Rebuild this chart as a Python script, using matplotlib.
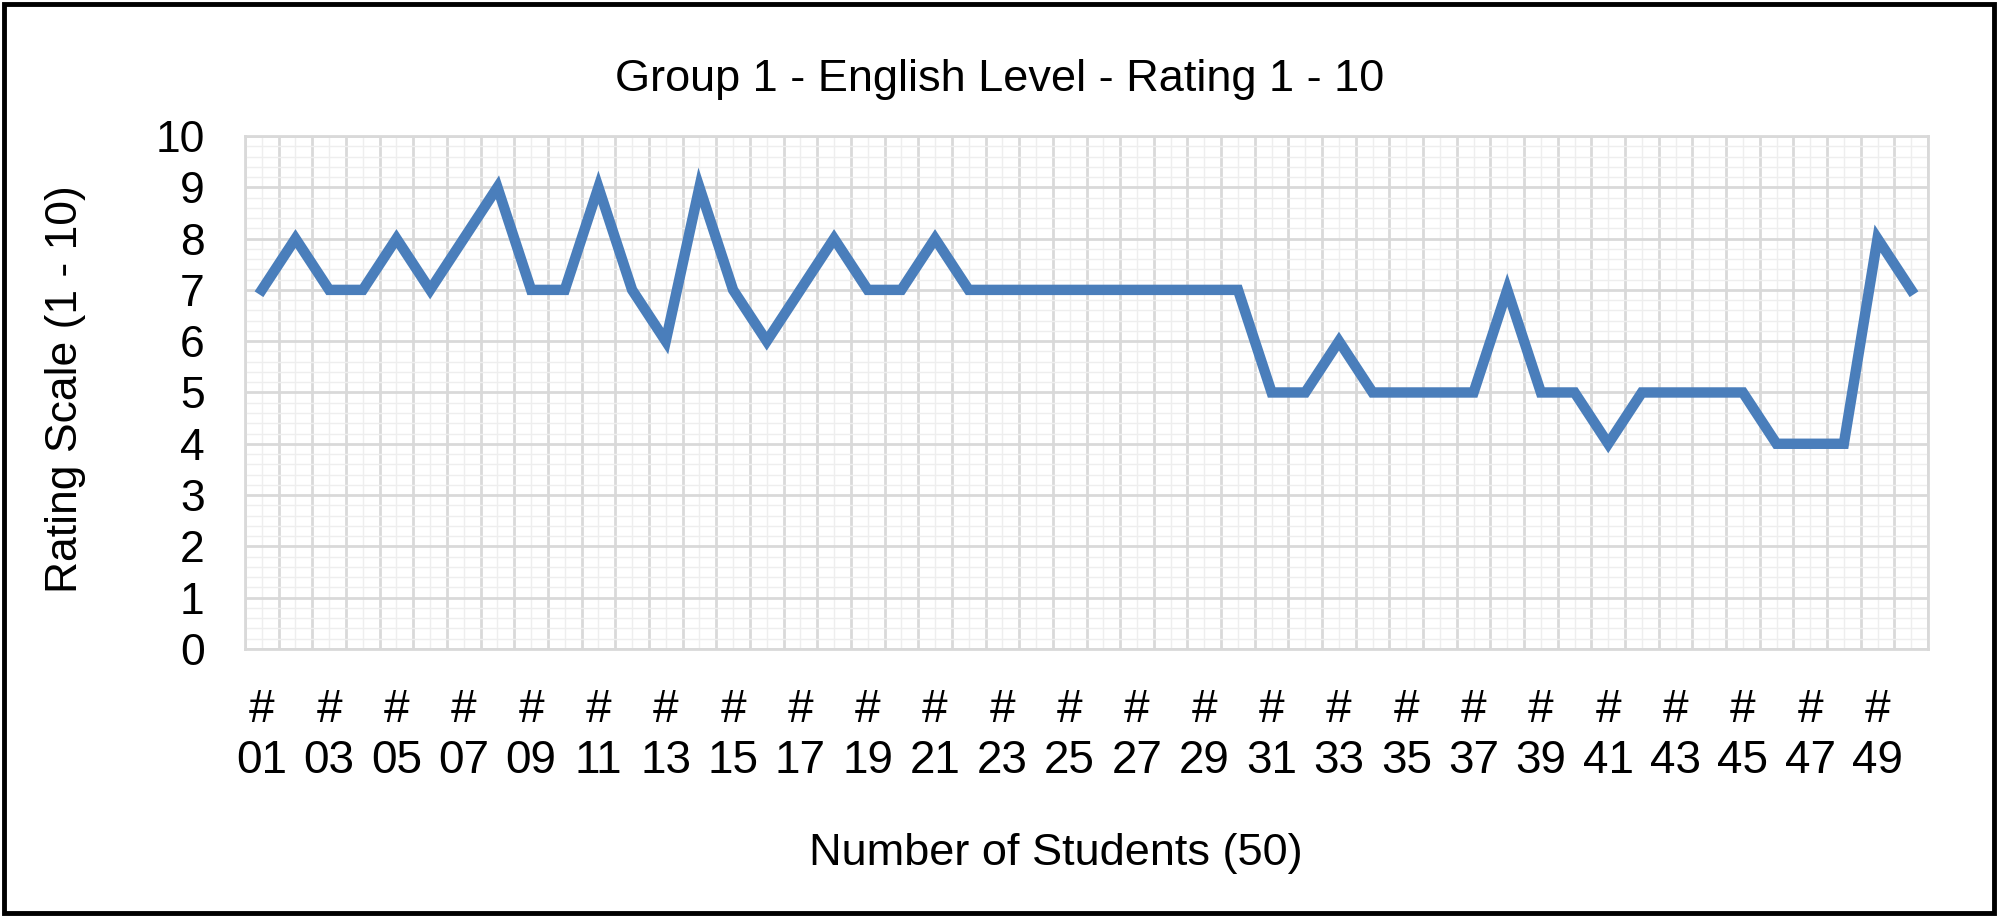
import matplotlib
matplotlib.use("Agg")
import matplotlib.pyplot as plt
from matplotlib.patches import Rectangle
import numpy as np

plt.rcParams['font.family'] = ['Liberation Sans', 'DejaVu Sans']

# ratings of the 50 students
students = list(range(1, 51))
ratings = [7, 8, 7, 7, 8, 7, 8, 9, 7, 7,
           9, 7, 6, 9, 7, 6, 7, 8, 7, 7,
           8, 7, 7, 7, 7, 7, 7, 7, 7, 7,
           5, 5, 6, 5, 5, 5, 5, 7, 5, 5,
           4, 5, 5, 5, 5, 4, 4, 4, 8, 7]
xlabels = ['#\n%02d' % s if s % 2 == 1 else '' for s in students]
yticks = list(range(0, 11))

title = 'Group 1 - English Level - Rating 1 - 10'
xtitle = 'Number of Students (50)'
ytitle = 'Rating Scale (1 - 10)'

fig = plt.figure(figsize=(20, 9.17), dpi=100)
ax = fig.add_axes([0.1225, 0.2923, 0.8415, 0.5594])

ax.plot(students, ratings, color='#4A7EBB', lw=7.5, solid_joinstyle='miter', zorder=5)

ax.set_xlim(0.5, 50.5)
ax.set_ylim(0, 10)

# major grid on category boundaries, minor on centers
ax.set_xticks(np.arange(0.5, 51, 1))
ax.set_xticklabels([])
ax.set_xticks(students, minor=True)
ax.set_xticklabels(xlabels, minor=True, fontsize=33)
ax.set_yticks(yticks)
ax.set_yticklabels([str(v) for v in yticks], fontsize=32)
ax.set_yticks(np.arange(0, 10.01, 0.2), minor=True)

ax.tick_params(axis='both', which='both', length=0)
ax.tick_params(axis='x', which='minor', pad=28)
ax.tick_params(axis='y', which='major', pad=29)

ax.grid(which='major', color='#D9D9D9', lw=2.0, zorder=1)
ax.grid(which='minor', color='#EEEEEE', lw=1.0, zorder=0)
ax.set_axisbelow(True)
for s in ax.spines.values():
    s.set_color('#D9D9D9')
    s.set_linewidth(2.0)

fig.text(0.5, 1 - 80 / 917, title, ha='center', va='center', fontsize=32.5)
fig.text(1056 / 2000, 1 - 853 / 917, xtitle, ha='center', va='center', fontsize=32.5)
fig.text(66 / 2000, 1 - 389 / 917, ytitle, ha='center', va='center', rotation=90, fontsize=32)

# black frame round the whole chart
fig.patches.append(Rectangle((0.002, 0.004), 0.995, 0.992, transform=fig.transFigure,
                             fill=False, edgecolor='black', lw=3.5))

fig.savefig('out.png', dpi=100)
